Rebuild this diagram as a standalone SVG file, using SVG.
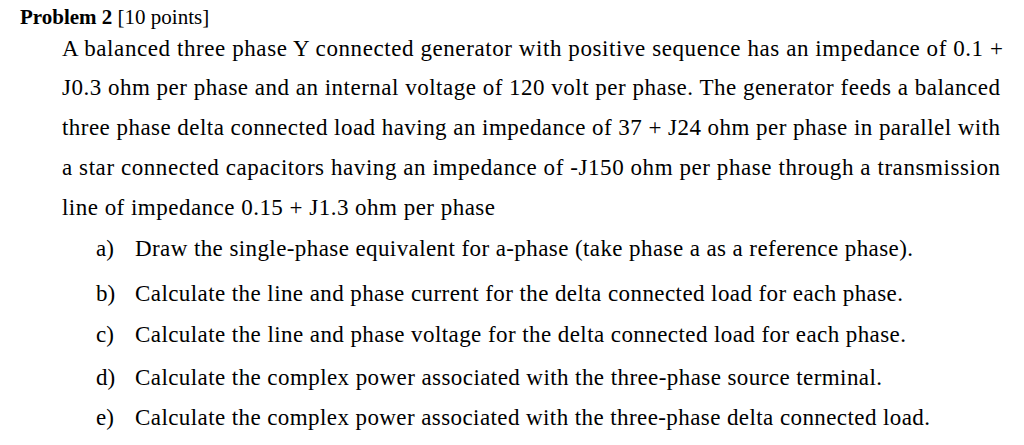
<svg xmlns="http://www.w3.org/2000/svg" width="1024" height="445" viewBox="0 0 1024 445">
<style>
text{font-family:"Liberation Serif","Times New Roman",serif;font-size:23px;fill:#000}
.b{font-weight:bold}
</style>
<rect width="1024" height="445" fill="#fff"/>
<g id="title"><text x="20" y="24" style="font-size:21px"><tspan class="b">Problem 2</tspan> [10 points]</text></g>
<g id="paragraph">
<text x="62" y="56" textLength="941" lengthAdjust="spacing">A balanced three phase Y connected generator with positive sequence has an impedance of 0.1 +</text>
<text x="62" y="95" textLength="938" lengthAdjust="spacing">J0.3 ohm per phase and an internal voltage of 120 volt per phase. The generator feeds a balanced</text>
<text x="62" y="135" textLength="938" lengthAdjust="spacing">three phase delta connected load having an impedance of 37 + J24 ohm per phase in parallel with</text>
<text x="62" y="175" textLength="938" lengthAdjust="spacing">a star connected capacitors having an impedance of -J150 ohm per phase through a transmission</text>
<text x="62" y="215" textLength="433" lengthAdjust="spacing">line of impedance 0.15 + J1.3 ohm per phase</text>
</g>
<g id="items">
<text x="96" y="256">a)</text><text x="135" y="256" textLength="778" lengthAdjust="spacing">Draw the single-phase equivalent for a-phase (take phase a as a reference phase).</text>
<text x="96" y="301">b)</text><text x="135" y="301" textLength="768" lengthAdjust="spacing">Calculate the line and phase current for the delta connected load for each phase.</text>
<text x="96" y="342">c)</text><text x="135" y="342" textLength="771" lengthAdjust="spacing">Calculate the line and phase voltage for the delta connected load for each phase.</text>
<text x="96" y="385">d)</text><text x="135" y="385" textLength="747" lengthAdjust="spacing">Calculate the complex power associated with the three-phase source terminal.</text>
<text x="96" y="425">e)</text><text x="135" y="425" textLength="795" lengthAdjust="spacing">Calculate the complex power associated with the three-phase delta connected load.</text>
</g>
</svg>
